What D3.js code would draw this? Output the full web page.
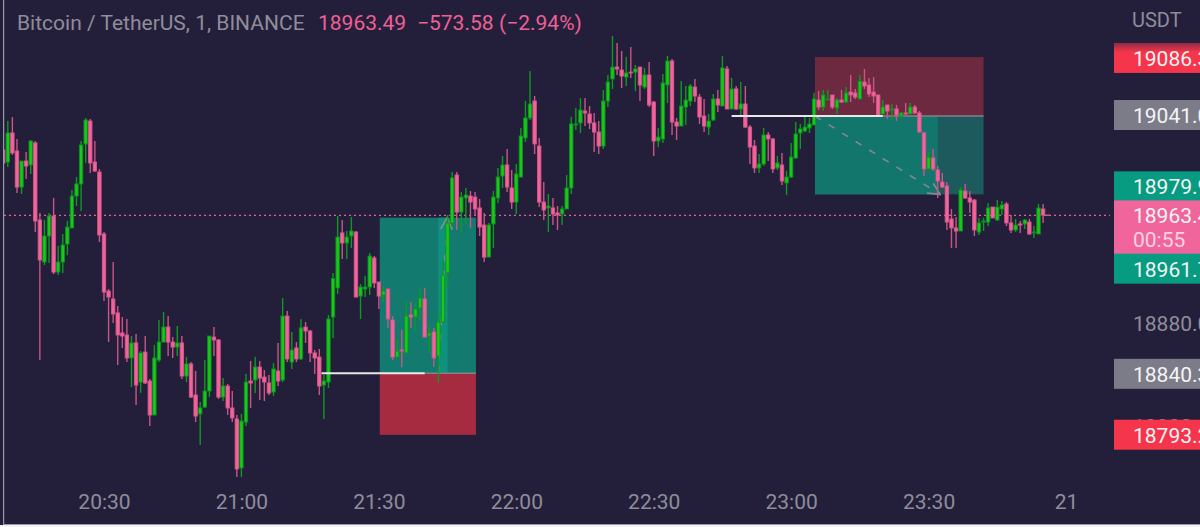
<!DOCTYPE html>
<html>
<head>
<meta charset="utf-8">
<script src="https://cdn.jsdelivr.net/npm/d3@7"></script>
<style>
  html, body { margin: 0; padding: 0; background: #231f3a; overflow: hidden; }
  text { font-family: Roboto, sans-serif; }
</style>
</head>
<body>
<div id="chart"></div>
<script>
//chart data, one candle per minute, first candle is 20:08
const firstMinute = 8; // minutes after 20:00

const opens = [
  19014.5,19005.1,19027.8,19013.7,18985.6,19005.9,19002.8,19020.0,18959.9,18927.1,
  18947.4,18963.0,18919.3,18927.1,18941.2,18953.7,18978.6,18988.0,19019.2,19037.1,
  19005.1,18997.3,18949.0,18904.5,18898.3,18887.4,18871.8,18870.2,18852.3,18864.0,
  18833.5,18856.9,18834.3,18807.8,18850.7,18864.7,18876.4,18864.7,18860.8,18864.0,
  18838.2,18847.6,18823.4,18808.6,18814.0,18826.5,18868.6,18866.3,18821.8,18830.4,
  18813.3,18804.7,18766.5,18802.3,18834.3,18835.1,18845.2,18837.4,18832.8,18825.7,
  18842.1,18835.1,18885.0,18849.1,18860.1,18851.5,18876.4,18873.3,18856.2,18853.0,
  18831.2,18833.5,18884.2,18906.9,18949.8,18942.0,18947.4,18950.5,18900.6,18906.1,
  18907.6,18930.3,18911.5,18901.4,18906.1,18881.9,18853.0,18858.5,18856.2,18885.8,
  18884.2,18891.3,18898.3,18869.4,18872.5,18853.8,18880.3,18918.6,18957.6,18995.0,
  18966.1,18977.1,18978.6,18977.8,18969.3,18956.0,18931.0,18956.8,18977.1,18994.2,
  19002.8,18984.9,18973.9,18993.4,19023.9,19039.5,19052.7,19017.6,18973.9,18969.3,
  18969.3,18965.4,18964.6,18968.5,18984.9,19034.0,19035.6,19044.9,19042.6,19035.6,
  19028.5,19017.6,19052.7,19069.9,19079.2,19076.9,19071.4,19075.3,19075.3,19079.2,
  19063.6,19073.0,19051.9,19021.5,19023.1,19065.2,19083.9,19036.3,19033.2,19048.0,
  19052.7,19063.6,19055.8,19041.0,19032.4,19037.9,19054.3,19048.8,19077.7,19046.5,
  19062.1,19046.5,19050.4,19032.4,19017.6,19000.5,19003.6,19026.2,19023.1,19000.5,
  19002.8,18988.8,18993.4,19008.3,19027.8,19029.3,19031.7,19034.0,19053.5,19048.0,
  19053.5,19057.4,19047.3,19053.5,19051.9,19059.7,19059.0,19054.3,19067.5,19065.2,
  19059.7,19057.4,19042.6,19049.6,19045.7,19046.5,19041.0,19043.4,19042.6,19048.0,
  19043.4,19027.8,18999.7,19008.3,18998.9,18989.5,18986.4,18960.7,18953.7,18951.3,
  18982.5,18977.1,18975.5,18950.5,18958.3,18958.3,18970.0,18959.9,18968.5,18972.4,
  18957.6,18952.1,18956.8,18956.8,18958.3,18949.8,18949.0,18968.5,18963.8
];

const closes = [
  19004.4,19027.8,19012.2,18985.6,19005.9,19002.0,19021.5,18959.1,18928.7,18947.4,
  18963.0,18919.3,18927.1,18940.4,18954.4,18978.6,18988.0,19018.4,19037.9,19004.4,
  18998.1,18948.2,18903.7,18899.8,18886.6,18870.2,18869.4,18852.3,18864.0,18831.2,
  18856.2,18832.8,18807.8,18852.3,18864.7,18876.4,18864.7,18860.8,18864.0,18838.2,
  18847.6,18821.8,18807.0,18813.3,18826.5,18869.4,18866.3,18821.8,18830.4,18813.3,
  18805.5,18765.7,18803.1,18833.5,18832.8,18845.2,18836.6,18833.5,18825.0,18843.7,
  18834.3,18885.0,18851.5,18858.5,18851.5,18875.7,18873.3,18856.2,18852.3,18830.4,
  18834.3,18882.7,18914.2,18946.6,18942.0,18946.6,18951.3,18899.8,18907.6,18907.6,
  18931.8,18910.8,18900.6,18904.5,18882.7,18853.0,18857.7,18857.7,18885.0,18884.2,
  18890.5,18899.1,18868.6,18871.8,18852.3,18880.3,18917.0,18957.6,18992.7,18966.1,
  18977.8,18979.4,18973.9,18968.5,18954.4,18931.0,18956.0,18977.8,18993.4,19002.8,
  18985.6,18973.9,18995.8,19025.4,19039.5,19050.4,19019.2,18973.9,18967.7,18970.8,
  18964.6,18963.8,18968.5,18984.9,19034.8,19034.8,19045.7,19043.4,19035.6,19028.5,
  19017.6,19052.7,19067.5,19079.2,19077.7,19072.2,19074.6,19074.6,19077.7,19065.2,
  19073.0,19049.6,19021.5,19024.6,19066.8,19083.9,19036.3,19033.2,19048.8,19053.5,
  19064.4,19056.6,19040.2,19033.2,19037.1,19054.3,19049.6,19078.5,19046.5,19062.1,
  19046.5,19050.4,19032.4,19016.8,19000.5,19003.6,19026.2,19023.1,18999.7,19004.4,
  18990.3,18993.4,19009.0,19027.0,19030.9,19032.4,19034.8,19054.3,19048.0,19057.4,
  19054.3,19048.0,19053.5,19051.9,19059.0,19057.4,19055.8,19068.3,19064.4,19058.2,
  19056.6,19041.8,19048.0,19044.9,19046.5,19041.8,19043.4,19042.6,19048.0,19043.4,
  19028.5,18999.7,19009.0,18999.7,18990.3,18985.6,18958.3,18953.7,18951.3,18983.3,
  18977.1,18973.9,18952.1,18957.6,18959.1,18969.3,18961.5,18970.0,18971.6,18957.6,
  18952.1,18956.0,18956.0,18959.9,18949.0,18950.5,18969.3,18963.8,18963.49
];

const highs = [
  19020.0,19037.1,19040.2,19023.1,19005.9,19012.9,19022.3,19021.5,18965.4,18959.9,
  18965.4,18977.1,18939.6,18949.0,18959.1,18983.3,18993.4,19021.5,19039.5,19038.7,
  19021.5,18999.7,18950.5,18906.1,18927.1,18892.8,18884.2,18882.7,18869.4,18871.0,
  18857.7,18869.4,18835.9,18862.4,18881.9,18888.1,18885.0,18868.6,18877.2,18869.4,
  18853.0,18849.1,18842.1,18817.9,18850.7,18869.4,18876.4,18867.1,18836.7,18832.0,
  18826.5,18807.8,18808.6,18839.8,18849.9,18853.0,18849.9,18842.9,18839.0,18848.4,
  18864.0,18899.1,18888.9,18872.5,18864.7,18882.7,18880.3,18874.1,18858.5,18859.3,
  18839.0,18885.8,18918.6,18963.0,18959.9,18951.3,18962.2,18951.3,18910.0,18916.2,
  18934.2,18931.8,18911.5,18908.4,18906.1,18885.0,18866.3,18874.1,18896.7,18895.9,
  18895.9,18906.9,18906.9,18877.2,18875.7,18887.4,18928.7,18963.8,18997.3,18997.3,
  18981.7,18984.9,18982.5,18981.7,18976.3,18965.4,18957.6,18982.5,19000.5,19009.8,
  19015.3,18998.9,19003.6,19031.7,19052.7,19076.1,19056.6,19023.9,18989.5,18980.2,
  18977.1,18970.8,18970.8,18995.0,19040.2,19047.3,19055.1,19055.1,19048.8,19043.4,
  19037.1,19061.3,19073.0,19103.4,19098.0,19091.7,19087.0,19094.8,19080.8,19079.2,
  19078.5,19083.1,19052.7,19031.7,19073.8,19087.8,19085.5,19039.5,19068.3,19064.4,
  19066.0,19069.9,19058.2,19054.3,19042.6,19058.2,19061.3,19087.8,19080.0,19070.7,
  19064.4,19067.5,19064.4,19034.0,19022.3,19011.4,19031.7,19028.5,19023.9,19009.8,
  19012.2,18998.1,19020.0,19036.3,19034.8,19040.2,19039.5,19059.0,19060.5,19061.3,
  19061.3,19057.4,19055.1,19061.3,19063.6,19073.0,19062.1,19073.0,19077.7,19070.7,
  19071.4,19057.4,19053.5,19049.6,19050.4,19049.6,19044.1,19051.2,19051.2,19049.6,
  19044.9,19028.5,19012.9,19015.3,19002.0,18996.6,18989.5,18968.5,18962.2,18985.6,
  18988.0,18982.5,18976.3,18961.5,18961.5,18973.2,18970.0,18975.5,18974.7,18973.9,
  18963.8,18960.7,18959.1,18960.7,18960.7,18955.2,18972.4,18972.4,18963.8
];

const lows = [
  18995.0,19001.2,19010.6,18981.0,18980.2,18991.9,18995.8,18950.5,18850.7,18924.8,
  18926.4,18917.8,18917.0,18918.6,18932.6,18953.7,18970.8,18966.9,19004.4,18996.6,
  18997.3,18942.8,18896.7,18864.7,18879.6,18846.8,18860.1,18849.1,18829.6,18815.6,
  18825.0,18832.0,18799.2,18807.8,18849.1,18864.7,18853.8,18852.3,18853.8,18835.9,
  18833.5,18821.1,18802.3,18784.4,18813.3,18821.8,18853.8,18820.3,18818.7,18807.8,
  18802.3,18759.4,18759.4,18799.2,18813.3,18825.0,18819.5,18818.7,18823.4,18822.6,
  18830.4,18833.5,18849.1,18843.7,18849.1,18850.7,18864.0,18849.1,18839.8,18823.4,
  18804.7,18828.9,18867.9,18902.2,18929.5,18929.5,18938.1,18899.8,18882.7,18899.8,
  18901.4,18906.9,18890.5,18895.9,18875.7,18850.7,18853.0,18845.2,18856.2,18875.7,
  18873.3,18881.1,18868.6,18856.2,18845.2,18832.8,18880.3,18906.9,18954.4,18952.1,
  18949.8,18956.8,18953.7,18963.0,18947.4,18927.1,18931.0,18938.1,18973.2,18984.9,
  18981.7,18968.5,18964.6,18993.4,19020.7,19037.9,19011.4,18970.0,18959.9,18950.5,
  18956.0,18952.1,18956.0,18968.5,18980.2,19030.1,19027.8,19033.2,19030.9,19012.9,
  19011.4,19015.3,19048.0,19062.1,19073.0,19062.9,19064.4,19070.7,19060.5,19052.7,
  19062.1,19048.0,19009.8,19016.8,19020.0,19051.2,19026.2,19022.3,19033.2,19034.0,
  19048.8,19051.9,19034.8,19028.5,19026.2,19037.1,19044.1,19048.8,19046.5,19046.5,
  19045.7,19040.2,19031.7,19003.6,18996.6,18996.6,19002.0,19005.9,18996.6,18998.9,
  18987.2,18979.4,18992.7,19007.5,19015.3,19028.5,19027.8,19034.0,19045.7,19044.9,
  19053.5,19046.5,19042.6,19051.2,19051.2,19051.9,19054.3,19054.3,19062.1,19055.8,
  19051.2,19041.0,19041.0,19038.7,19037.9,19037.1,19038.7,19041.0,19042.6,19042.6,
  19027.8,18994.2,18999.7,18998.1,18977.1,18984.9,18952.1,18938.1,18938.1,18951.3,
  18976.3,18965.4,18947.4,18948.2,18951.3,18955.2,18961.5,18959.1,18963.8,18955.2,
  18949.8,18950.5,18949.8,18952.9,18948.2,18945.9,18949.0,18957.6,18963.0
];

// time axis
const tickMinutes = [30, 60, 90, 120, 150, 180, 210, 240];
const tickLabels = ["20:30", "21:00", "21:30", "22:00", "22:30", "23:00", "23:30", "21"];

// plain price axis labels
const priceTicks = [18880, 18800];

// the two long positions, left and right box
const boxStart = [90.2, 185.2];
const boxEnd = [111.2, 222];
const boxEntry = [18840.3, 19041.0];
const boxTarget = [18961.7, 18979.9];
const boxStop = [18792.3, 19087.0];
const bandStart = [103, 185.2];
const bandEnd = [105, 212];
const entryLineStart = [77.5, 167];
const entryLineEnd = [100, 200];
const arrowEnd = [104.9, 212.5];

const lastPrice = 18963.49;

// price labels on the right
const tagPrices = [19086.3, 19041.0, 18979.9, 18963.49, 18961.7, 18840.3, 18793.2];
const tagTexts = ["19086.3", "19041.0", "18979.9", "18963.49", "18961.7", "18840.3", "18793.2"];
const tagKinds = ["stop", "entry", "target", "last", "target", "entry", "stop"];

const width = 1200;
const height = 527;
const tagShift = [0, -1, -8, 0, 51, 0.5, 1];

const bg = "#231f3a";
const green = "#19c915", greenEdge = "#0d8f25";
const pink = "#f2659b", pinkEdge = "#d9568c";

const x = d3.scaleLinear().domain([30, 240]).range([104, 1066]);
const y = d3.scaleLinear().domain([19131.5, 18741.5]).range([0, 500]);

const svg = d3.select("#chart").append("svg")
  .attr("width", width)
  .attr("height", height)
  .style("display", "block");

const defs = svg.append("defs");
defs.append("clipPath").attr("id", "plot")
  .append("rect").attr("x", 4).attr("y", 0).attr("width", 1106).attr("height", 524);

const redTop = defs.append("linearGradient").attr("id", "redTop")
  .attr("x1", 0).attr("x2", 0).attr("y1", 0).attr("y2", 1);
redTop.append("stop").attr("offset", "0%").attr("stop-color", "#8c2c44");
redTop.append("stop").attr("offset", "30%").attr("stop-color", "#f5354b");
redTop.append("stop").attr("offset", "100%").attr("stop-color", "#f5354b");

defs.append("marker").attr("id", "head")
  .attr("viewBox", "0 0 12 12").attr("refX", 11).attr("refY", 6)
  .attr("markerWidth", 14).attr("markerHeight", 14).attr("markerUnits", "userSpaceOnUse")
  .attr("orient", "auto")
  .append("path").attr("d", "M1,1L11,6L1,11")
  .attr("fill", "none").attr("stroke", "#87878f").attr("stroke-width", 1.5);

svg.append("rect").attr("width", width).attr("height", height).attr("fill", bg);

const plot = svg.append("g").attr("clip-path", "url(#plot)");

// position boxes
const boxIdx = d3.range(boxStart.length);
const boxes = plot.append("g");

boxes.selectAll(".stop").data(boxIdx).join("rect")
  .attr("class", "stop")
  .attr("x", i => x(boxStart[i]))
  .attr("width", i => x(boxEnd[i]) - x(boxStart[i]))
  .attr("y", i => Math.min(y(boxStop[i]), y(boxEntry[i])))
  .attr("height", i => Math.abs(y(boxStop[i]) - y(boxEntry[i])))
  .attr("fill", i => i == 0 ? "#a62b41" : "#6c293f");

boxes.selectAll(".target").data(boxIdx).join("rect")
  .attr("class", "target")
  .attr("x", i => x(boxStart[i]))
  .attr("width", i => x(boxEnd[i]) - x(boxStart[i]))
  .attr("y", i => Math.min(y(boxTarget[i]), y(boxEntry[i])))
  .attr("height", i => Math.abs(y(boxTarget[i]) - y(boxEntry[i])))
  .attr("fill", i => i == 0 ? "#137a70" : "#1c5a5d");

boxes.selectAll(".band").data(boxIdx).join("rect")
  .attr("class", "band")
  .attr("x", i => x(bandStart[i]))
  .attr("width", i => x(bandEnd[i]) - x(bandStart[i]))
  .attr("y", i => Math.min(y(boxTarget[i]), y(boxEntry[i])))
  .attr("height", i => Math.abs(y(boxTarget[i]) - y(boxEntry[i])))
  .attr("fill", i => i == 0 ? "#0f917f" : "#13766d");

boxes.selectAll(".edge").data(boxIdx).join("line")
  .attr("class", "edge")
  .attr("x1", i => x(boxStart[i])).attr("x2", i => x(boxEnd[i]))
  .attr("y1", i => y(boxEntry[i])).attr("y2", i => y(boxEntry[i]))
  .attr("stroke", "#87808a").attr("stroke-width", 1.5);

boxes.selectAll(".arrow").data(boxIdx).join("line")
  .attr("class", "arrow")
  .attr("x1", i => x(bandStart[i]))
  .attr("x2", i => x(arrowEnd[i]))
  .attr("y1", i => y(boxEntry[i])).attr("y2", i => y(boxTarget[i]))
  .attr("stroke", "#87878f").attr("stroke-width", 1.5)
  .attr("stroke-dasharray", "7,9")
  .attr("marker-end", "url(#head)");

// last price dotted line
plot.append("line")
  .attr("x1", 4).attr("x2", 1110)
  .attr("y1", y(lastPrice)).attr("y2", y(lastPrice))
  .attr("stroke", "#e0628f").attr("stroke-width", 1.3)
  .attr("stroke-dasharray", "2,3");

// candles
const idx = d3.range(closes.length);
const up = i => closes[i] > opens[i];
const cx = i => x(firstMinute + i);

const candles = plot.append("g");

candles.selectAll(".wick").data(idx).join("line")
  .attr("class", "wick")
  .attr("x1", cx).attr("x2", cx)
  .attr("y1", i => y(highs[i])).attr("y2", i => y(lows[i]))
  .attr("stroke", i => up(i) ? "#0e9a22" : "#cb5488")
  .attr("stroke-width", 1.4);

candles.selectAll(".body").data(idx).join("rect")
  .attr("class", "body")
  .attr("x", i => cx(i) - 1.7)
  .attr("width", 3.4)
  .attr("y", i => y(Math.max(opens[i], closes[i])))
  .attr("height", i => Math.abs(y(opens[i]) - y(closes[i])))
  .attr("fill", i => up(i) ? green : pink)
  .attr("stroke", i => up(i) ? greenEdge : pinkEdge)
  .attr("stroke-width", 0.9);

// white entry lines
plot.selectAll(".entry").data(boxIdx).join("line")
  .attr("class", "entry")
  .attr("x1", i => x(entryLineStart[i])).attr("x2", i => x(entryLineEnd[i]))
  .attr("y1", i => y(boxEntry[i])).attr("y2", i => y(boxEntry[i]))
  .attr("stroke", "#e8e8e8").attr("stroke-width", 2);

// time axis
const xAxis = d3.axisBottom(x)
  .tickValues(tickMinutes)
  .tickFormat((d, i) => tickLabels[i])
  .tickSize(0)
  .tickPadding(0);

svg.append("g")
  .attr("transform", "translate(0,494.5)")
  .call(xAxis)
  .call(g => g.select(".domain").remove())
  .selectAll("text")
  .attr("font-family", "Roboto, sans-serif")
  .attr("font-size", 21)
  .attr("fill", "#8f8d9a");

// plain price labels
const yAxis = d3.axisRight(y)
  .tickValues(priceTicks)
  .tickFormat(d3.format(".1f"))
  .tickSize(0)
  .tickPadding(0);

svg.append("g")
  .attr("transform", "translate(1133,1.5)")
  .call(yAxis)
  .call(g => g.select(".domain").remove())
  .selectAll("text")
  .attr("font-family", "Roboto, sans-serif")
  .attr("font-size", 21)
  .attr("fill", "#8f8d9a");

svg.append("text").attr("x", 1132).attr("y", 27)
  .attr("font-size", 20).attr("fill", "#8f8d9a").text("USDT");

// price tags
const tagFill = { stop: "#f5354b", entry: "#7c7c89", target: "#079b81", last: "#f0659b" };
const tags = svg.append("g");

tags.selectAll("rect").data(tagPrices.map((d, i) => i)).join("rect")
  .attr("x", 1114)
  .attr("width", 86)
  .attr("y", i => y(tagPrices[i]) + tagShift[i] - 15)
  .attr("height", i => tagKinds[i] == "last" ? 54 : 30)
  .attr("fill", i => i == 0 ? "url(#redTop)" : tagFill[tagKinds[i]]);

tags.selectAll("text").data(tagPrices.map((d, i) => i)).join("text")
  .attr("x", 1133)
  .attr("y", i => y(tagPrices[i]) + tagShift[i] + 0.5)
  .attr("dy", "0.36em")
  .attr("font-size", 21)
  .attr("fill", "#f4f4f6")
  .text(i => tagTexts[i]);

svg.append("text").attr("x", 1133).attr("y", y(lastPrice) + 24.5)
  .attr("dy", "0.36em").attr("font-size", 21).attr("fill", "#fbd3e2").text("00:55");

// title row
const titleParts = [
  ["Bitcoin / TetherUS, 1, BINANCE", 17, "#8f8d9a"],
  ["18963.49", 318, "#ee6096"],
  ["\u2212573.58", 417, "#ee6096"],
  ["(\u22122.94%)", 499, "#ee6096"]
];
svg.selectAll(".title").data(titleParts).join("text")
  .attr("class", "title")
  .attr("x", d => d[1]).attr("y", 29.5)
  .attr("font-size", 21)
  .attr("fill", d => d[2])
  .text(d => d[0]);

// window edges
svg.append("rect").attr("x", 3).attr("y", 0).attr("width", 1.2).attr("height", 524).attr("fill", "#9a99a5");
svg.append("rect").attr("x", 3).attr("y", 524).attr("width", 1197).attr("height", 1).attr("fill", "#9a99a5");
svg.append("rect").attr("x", 0).attr("y", 525).attr("width", width).attr("height", 2).attr("fill", "#f4f4f6");
</script>
</body>
</html>
